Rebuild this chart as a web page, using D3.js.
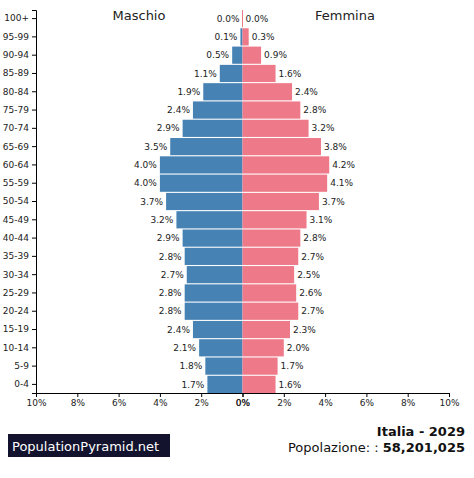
<!DOCTYPE html><html><head><meta charset="utf-8"><script src="https://cdn.jsdelivr.net/npm/d3@7"></script>
<style>body{margin:0;background:#fff}text{font-family:"DejaVu Sans",sans-serif}</style></head><body>
<svg id="c" width="474" height="478"></svg>
<script>
const ages=["100+","95-99","90-94","85-89","80-84","75-79","70-74","65-69","60-64","55-59","50-54","45-49","40-44","35-39","30-34","25-29","20-24","15-19","10-14","5-9","0-4"];
const male=[0.0,0.1,0.5,1.1,1.9,2.4,2.9,3.5,4.0,4.0,3.7,3.2,2.9,2.8,2.7,2.8,2.8,2.4,2.1,1.8,1.7];
const female=[0.0,0.3,0.9,1.6,2.4,2.8,3.2,3.8,4.2,4.1,3.7,3.1,2.8,2.7,2.5,2.6,2.7,2.3,2.0,1.7,1.6];
const ticks=[0,2,4,6,8,10];
const svg=d3.select("#c");
const cx=242.5;
const xl=d3.scaleLinear().domain([0,10]).range([cx,36]);
const xr=d3.scaleLinear().domain([0,10]).range([cx,449]);
const y=d3.scaleBand().domain(ages).range([10,393]).paddingInner(0.06);
const g=svg.append("g");
g.selectAll(".m").data(ages).join("rect").attr("x",(d,i)=>xl(male[i])).attr("y",d=>y(d)).attr("width",(d,i)=>cx-xl(male[i])).attr("height",y.bandwidth()).attr("fill","#4682b4");
g.selectAll(".f").data(ages).join("rect").attr("x",cx).attr("y",d=>y(d)).attr("width",(d,i)=>xr(female[i])-cx).attr("height",y.bandwidth()).attr("fill","#ee7989");
g.append("line").attr("x1",cx).attr("x2",cx).attr("y1",10).attr("y2",y(ages[0])+y.bandwidth()).attr("stroke","#ee7989");
g.selectAll(".ml").data(ages).join("text").attr("x",(d,i)=>xl(male[i])-3).attr("y",d=>y(d)+y.bandwidth()/2).attr("dy","0.35em").attr("text-anchor","end").attr("font-size",9).attr("fill","#222").text((d,i)=>male[i].toFixed(1)+"%");
g.selectAll(".fl").data(ages).join("text").attr("x",(d,i)=>xr(female[i])+3).attr("y",d=>y(d)+y.bandwidth()/2).attr("dy","0.35em").attr("font-size",9).attr("fill","#222").text((d,i)=>female[i].toFixed(1)+"%");
const ya=svg.append("g").attr("transform","translate(36,0)").call(d3.axisLeft(y).tickSize(4).tickSizeOuter(4));
ya.selectAll("text").attr("font-size",9).attr("fill","#222").style("font-family","DejaVu Sans");
const fmt=d=>d+"%";
svg.append("g").attr("transform","translate(0,393)").call(d3.axisBottom(xl).tickValues(ticks).tickFormat(fmt).tickSize(4).tickSizeOuter(0));
svg.append("g").attr("transform","translate(0,393)").call(d3.axisBottom(xr).tickValues(ticks).tickFormat(fmt).tickSize(4).tickSizeOuter(0));
svg.selectAll(".tick text").attr("font-size",9).attr("fill","#222").style("font-family","DejaVu Sans");
svg.append("text").attr("x",139).attr("y",20).attr("text-anchor","middle").attr("font-size",13).attr("fill","#222").text("Maschio");
svg.append("text").attr("x",345).attr("y",20).attr("text-anchor","middle").attr("font-size",13).attr("fill","#222").text("Femmina");
svg.append("rect").attr("x",8).attr("y",434).attr("width",162).attr("height",23).attr("fill","#13132e");
svg.append("text").attr("x",12).attr("y",451).attr("font-size",13).attr("fill","#fff").text("PopulationPyramid.net");
svg.append("text").attr("x",465).attr("y",436).attr("text-anchor","end").attr("font-size",13).attr("font-weight","bold").attr("fill","#111").text("Italia - 2029");
const p=svg.append("text").attr("x",465).attr("y",452).attr("text-anchor","end").attr("font-size",13).attr("fill","#111");
p.append("tspan").text("Popolazione: : ");
p.append("tspan").attr("font-weight","bold").text("58,201,025");
</script></body></html>
